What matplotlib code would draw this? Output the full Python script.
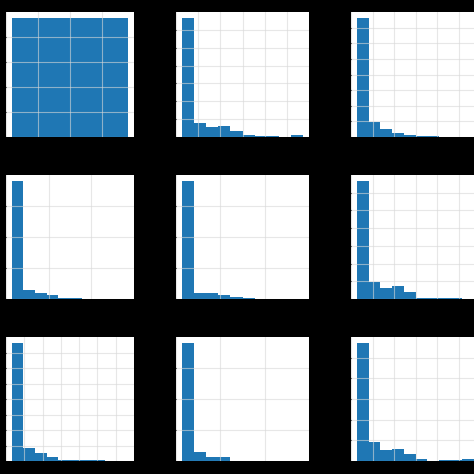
import matplotlib
matplotlib.use('Agg')
import matplotlib.pyplot as plt
import numpy as np

# relative bar heights (10 bins per panel)
h1 = [1, 1, 1, 1, 1, 1, 1, 1, 1, 1]
h2 = [1, 0.12, 0.08, 0.09, 0.05, 0.015, 0.005, 0.005, 0.003, 0.02]
h3 = [1, 0.13, 0.07, 0.03, 0.015, 0.01, 0.01, 0.003, 0.002, 0.001]
h4 = [1, 0.08, 0.05, 0.03, 0.005, 0.005, 0.004, 0.003, 0.001, 0.004]
h5 = [1, 0.05, 0.05, 0.035, 0.015, 0.01, 0.003, 0.002, 0.004, 0.002]
h6 = [1, 0.14, 0.09, 0.11, 0.06, 0.005, 0.005, 0.01, 0.01, 0.002]
h7 = [1, 0.11, 0.07, 0.03, 0.01, 0.007, 0.01, 0.005, 0.002, 0.0]
h8 = [1, 0.08, 0.03, 0.035, 0, 0, 0, 0, 0, 0.002]
h9 = [1, 0.16, 0.09, 0.1, 0.06, 0.02, 0.003, 0.005, 0.005, 0.02]
panels = [h1, h2, h3, h4, h5, h6, h7, h8, h9]
xgrid = [5, 7, 7, 4, 4, 7, 8, 4, 7]
ygrid = [6, 8, 9, 5, 5, 8, 9, 5, 7]

W = 474.0
fig = plt.figure(figsize=(4.74, 4.74), dpi=100, facecolor='black')
cols = [(6, 134), (176, 309), (351, 480)]
rows = [(12, 137), (175, 299), (337, 461)]
for i, h in enumerate(panels):
    r, c = divmod(i, 3)
    x0, x1 = cols[c]
    y0, y1 = rows[r]
    ax = fig.add_axes([x0 / W, 1 - y1 / W, (x1 - x0) / W, (y1 - y0) / W])
    edges = np.arange(11)
    ax.hist(edges[:-1] + 0.5, bins=edges, weights=h, color='#1f77b4')
    ax.set_ylim(0, 1.05)
    ax.set_xticks(np.linspace(-0.5, 10.5, xgrid[i]))
    ax.set_yticks(np.linspace(0, 1.05, ygrid[i])[:-1])
    ax.set_axisbelow(False)
    ax.grid(True, color='#d8d8d8', linewidth=0.8, alpha=0.6)
    # tick labels are black on black, as in the reference
    ax.tick_params(colors='black', labelsize=6)
    for s in ax.spines.values():
        s.set_visible(False)

fig.savefig('out.png', facecolor='black')
